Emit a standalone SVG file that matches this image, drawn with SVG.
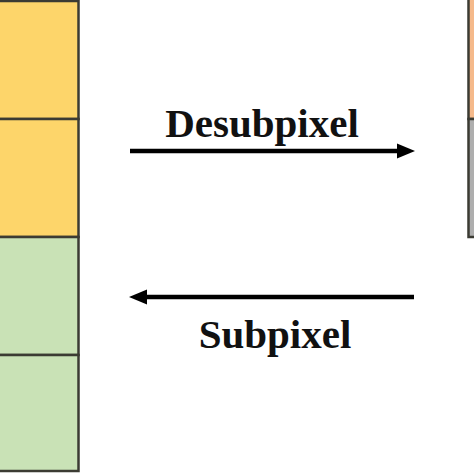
<svg xmlns="http://www.w3.org/2000/svg" width="474" height="474" viewBox="0 0 474 474">
<style>
.cell{stroke:#3b3b33;stroke-width:2.5}
.y{fill:#FDD56A}
.g{fill:#C9E2B6}
.o{fill:#F5B98A}
.gr{fill:#AEAEAE}
.lbl{font-family:"Liberation Serif","Times New Roman",serif;font-weight:bold;font-size:41px;fill:#111;text-anchor:middle}
.shaft{stroke:#000;stroke-width:4.5}
</style>
<rect width="474" height="474" fill="#fff"/>
<g id="left-column">
<rect class="cell y" x="-10" y="1" width="88.5" height="118"/>
<rect class="cell y" x="-10" y="119" width="88.5" height="118"/>
<rect class="cell g" x="-10" y="237" width="88.5" height="118"/>
<rect class="cell g" x="-10" y="355" width="88.5" height="116"/>
</g>
<g id="right-column">
<rect class="cell o" x="468.5" y="-5" width="20" height="124"/>
<rect class="cell gr" x="468.5" y="119" width="20" height="118"/>
</g>
<g id="connectors">
<line class="shaft" x1="130" y1="151" x2="400" y2="151"/>
<polygon points="397,143.5 415,151 397,158.5" fill="#000"/>
<line class="shaft" x1="144" y1="297" x2="414" y2="297"/>
<polygon points="147,289.5 129,297 147,304.5" fill="#000"/>
</g>
<text class="lbl" x="262" y="137">Desubpixel</text>
<text class="lbl" x="275" y="348">Subpixel</text>
</svg>
